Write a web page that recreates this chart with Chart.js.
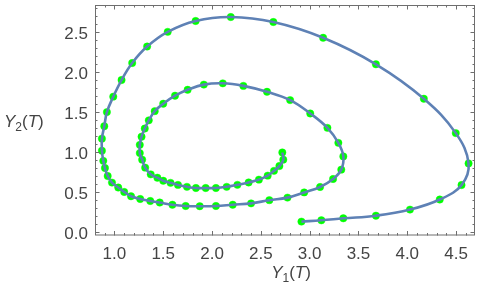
<!DOCTYPE html>
<html>
<head>
<meta charset="utf-8">
<style>
  html, body { margin: 0; padding: 0; background: #fff; }
  #wrap { width: 480px; height: 300px; }
</style>
</head>
<body>
<div id="wrap"><canvas id="myChart" width="480" height="300"></canvas></div>
<script src="https://cdn.jsdelivr.net/npm/chart.js@4.4.0/dist/chart.umd.min.js"></script>
<script>
// sample points, from the centre of the spiral outwards
const y1Values = [
    2.72, 2.73, 2.69, 2.635, 2.57, 2.48, 2.375, 2.26, 2.15, 2.04,
    1.935, 1.835, 1.743, 1.651, 1.575, 1.50, 1.44, 1.372, 1.315, 1.284,
    1.26, 1.26, 1.278, 1.311, 1.352, 1.413, 1.50, 1.621, 1.75, 1.916,
    2.11, 2.321, 2.563, 2.80, 3.006, 3.182, 3.294, 3.345, 3.324, 3.24,
    3.107, 2.944, 2.773, 2.587, 2.40, 2.212, 2.04, 1.874, 1.73, 1.594,
    1.464, 1.367, 1.264, 1.17, 1.10, 1.039, 0.975, 0.931, 0.903, 0.886,
    0.872, 0.872, 0.896, 0.923, 0.988, 1.073, 1.182, 1.335, 1.546, 1.832,
    2.192, 2.628, 3.138, 3.679, 4.17, 4.497, 4.628, 4.556, 4.333, 4.028,
    3.679, 3.345, 3.12, 2.916
]
const y2Values = [
    0.99, 0.90, 0.82, 0.76, 0.70, 0.65, 0.615, 0.585, 0.56, 0.545,
    0.545, 0.545, 0.56, 0.584, 0.61, 0.636, 0.674, 0.716, 0.80, 0.90,
    0.982, 1.085, 1.187, 1.289, 1.392, 1.507, 1.60, 1.70, 1.774, 1.839,
    1.855, 1.823, 1.749, 1.645, 1.478, 1.298, 1.11, 0.941, 0.775, 0.658,
    0.558, 0.49, 0.425, 0.393, 0.353, 0.336, 0.32, 0.317, 0.32, 0.336,
    0.363, 0.383, 0.408, 0.442, 0.496, 0.551, 0.613, 0.695, 0.795, 0.885,
    1.011, 1.163, 1.318, 1.495, 1.688, 1.896, 2.109, 2.315, 2.499, 2.635,
    2.684, 2.622, 2.425, 2.093, 1.662, 1.232, 0.853, 0.582, 0.401, 0.275,
    0.199, 0.166, 0.141, 0.125
]
const xTicks = [1.0, 1.5, 2.0, 2.5, 3.0, 3.5, 4.0, 4.5]
const yTicks = [0.0, 0.5, 1.0, 1.5, 2.0, 2.5]

const frameColor = '#6e6e6e'
const labelColor = '#444'
const fontFamily = '"Liberation Sans", Arial, sans-serif'

const points = y1Values.map((x, i) => ({ x: x, y: y2Values[i] }))

// frame with inward ticks on all four sides, Mathematica style
const frameTicks = {
    id: 'frameTicks',
    afterDatasetsDraw(chart) {
        const ctx = chart.ctx
        const area = chart.chartArea
        const xs = chart.scales.x
        const ys = chart.scales.y
        ctx.save()
        ctx.strokeStyle = frameColor
        ctx.lineWidth = 1
        ctx.strokeRect(area.left + 0.5, area.top + 0.5, area.right - area.left - 1, area.bottom - area.top - 1)
        ctx.beginPath()
        for (let i = 8; i <= 47; i++) {
            const v = i / 10
            const len = i % 5 === 0 ? 4.5 : 2.5
            const px = Math.round(xs.getPixelForValue(v)) + 0.5
            if (px <= area.left + 1 || px >= area.right - 1) continue
            ctx.moveTo(px, area.bottom)
            ctx.lineTo(px, area.bottom - len)
            ctx.moveTo(px, area.top)
            ctx.lineTo(px, area.top + len)
        }
        for (let i = 0; i <= 28; i++) {
            const v = i / 10
            const len = i % 5 === 0 ? 4.5 : 2.5
            const py = Math.round(ys.getPixelForValue(v)) + 0.5
            if (py <= area.top + 1 || py >= area.bottom - 1) continue
            ctx.moveTo(area.left, py)
            ctx.lineTo(area.left + len, py)
            ctx.moveTo(area.right, py)
            ctx.lineTo(area.right - len, py)
        }
        ctx.stroke()
        ctx.restore()
    }
}

// axis titles with italic Y, T and a subscript index
function drawTitle(ctx, x, y, index) {
    const parts = [
        { t: 'Y', f: 'italic 17px ' + fontFamily, dy: 0 },
        { t: index, f: '12px ' + fontFamily, dy: 4 },
        { t: '(', f: '17px ' + fontFamily, dy: 0 },
        { t: 'T', f: 'italic 17px ' + fontFamily, dy: 0 },
        { t: ')', f: '17px ' + fontFamily, dy: 0 }
    ]
    let cx = x
    parts.forEach(p => {
        ctx.font = p.f
        ctx.fillText(p.t, cx, y + p.dy)
        cx += ctx.measureText(p.t).width
    })
    return cx - x
}

const axisTitles = {
    id: 'axisTitles',
    afterDraw(chart) {
        const ctx = chart.ctx
        const area = chart.chartArea
        ctx.save()
        ctx.fillStyle = labelColor
        ctx.textBaseline = 'alphabetic'
        ctx.textAlign = 'left'
        // measure first so the x title can be centred
        ctx.globalAlpha = 0
        const w = drawTitle(ctx, 0, -100, '1')
        ctx.globalAlpha = 1
        drawTitle(ctx, (area.left + area.right) / 2 - w / 2 + 6, 278, '1')
        drawTitle(ctx, 4, 127, '2')
        ctx.restore()
    }
}

function noPadding(axis) {
    axis.paddingTop = 0
    axis.paddingBottom = 0
    axis.paddingLeft = 0
    axis.paddingRight = 0
}

const config = {
    type: 'scatter',
    data: {
        datasets: [{
            data: points,
            showLine: true,
            tension: 0.4,
            borderColor: 'rgb(94, 129, 181)',
            borderWidth: 2.6,
            pointRadius: 0,
            order: 0
        }, {
            data: points,
            showLine: false,
            pointRadius: 3.7,
            pointBackgroundColor: 'rgb(0, 255, 0)',
            pointBorderColor: 'rgba(0, 255, 0, 0.4)',
            pointBorderWidth: 1,
            order: 1
        }]
    },
    options: {
        responsive: false,
        animation: false,
        devicePixelRatio: 1,
        layout: { padding: { left: 0, right: 3.5, top: 1, bottom: 0 } },
        plugins: { legend: { display: false }, tooltip: { enabled: false } },
        scales: {
            x: {
                type: 'linear',
                min: 0.801,
                max: 4.694,
                grid: { display: false, drawTicks: false },
                border: { display: false },
                afterBuildTicks: axis => { axis.ticks = xTicks.map(v => ({ value: v })) },
                afterFit: axis => { axis.height = 64.5; noPadding(axis) },
                ticks: {
                    color: labelColor,
                    padding: 9,
                    maxRotation: 0,
                    autoSkip: false,
                    font: { family: fontFamily, size: 17 },
                    callback: v => Number(v).toFixed(1)
                }
            },
            y: {
                type: 'linear',
                min: -0.049,
                max: 2.835,
                grid: { display: false, drawTicks: false },
                border: { display: false },
                afterBuildTicks: axis => { axis.ticks = yTicks.map(v => ({ value: v })) },
                afterFit: axis => { axis.width = 95; noPadding(axis) },
                ticks: {
                    color: labelColor,
                    padding: 7,
                    labelOffset: 3,
                    autoSkip: false,
                    font: { family: fontFamily, size: 17 },
                    callback: v => Number(v).toFixed(1)
                }
            }
        }
    },
    plugins: [frameTicks, axisTitles]
}

const myChart = new Chart(document.getElementById('myChart'), config)
</script>
</body>
</html>
